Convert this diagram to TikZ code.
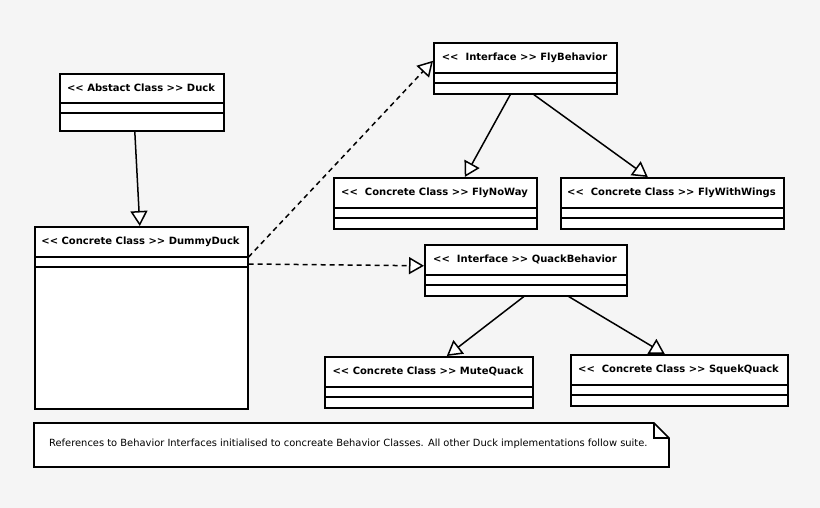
\documentclass[tikz,border=0pt]{standalone}
\usepackage{fontspec}
\setmainfont[Ligatures=NoCommon]{DejaVu Sans}
\usetikzlibrary{arrows.meta}
\definecolor{bg}{HTML}{F5F5F5}
\begin{document}
\begin{tikzpicture}[x=1pt,y=-1pt,
  box/.style={draw,line width=1.6pt,fill=white,anchor=north west,inner sep=0},
  ttl/.style={font=\fontsize{10}{12}\selectfont\bfseries},
  inh/.style={line width=1.5pt,-{Triangle[open,length=15pt,width=17pt,fill=white]}},
  dep/.style={inh,dash pattern=on 5pt off 4pt}]
\fill[bg] (0,0) rectangle (820,508);
\useasboundingbox (0,0) rectangle (820,508);
\newcommand\umlcls[7]{%
  \node[box,minimum width=#4pt,minimum height=#5pt] (#1) at (#2,#3) {};
  \node[ttl] (#1t) at ({#2+#4/2},{#3+#6/2}) {#7};
  \draw[line width=1.6pt] (#2,{#3+#6}) -- ({#2+#4},{#3+#6})
     (#2,{#3+#6+10}) -- ({#2+#4},{#3+#6+10});}
\newcommand\lt{<{}<}
\newcommand\gt{>{}>}
\umlcls{duck}{59}{73}{164}{57}{30}{\lt{} Abstact Class \gt{} Duck}
\umlcls{dummy}{34}{226}{213}{182}{31}{\lt{} Concrete Class \gt{} DummyDuck}
\umlcls{fly}{433}{42}{183}{51}{31}{\lt\ \ Interface \gt{} FlyBehavior}
\umlcls{noway}{333}{177}{203}{51}{31}{\lt\ \ Concrete Class \gt{} FlyNoWay}
\umlcls{wings}{560}{177}{223}{51}{31}{\lt\ \ Concrete Class \gt{} FlyWithWings}
\umlcls{quack}{424}{244}{202}{51}{31}{\lt\ \ Interface \gt{} QuackBehavior}
\umlcls{mute}{324}{356}{208}{51}{31}{\lt{} Concrete Class \gt{} MuteQuack}
\umlcls{squek}{570}{354}{217}{51}{31}{\lt\ \ Concrete Class \gt{} SquekQuack}
% note
\draw[line width=1.6pt,fill=white] (34,423) -- (654,423) -- (669,438) -- (669,467) -- (34,467) -- cycle;
\draw[line width=1.3pt] (654,423) -- (654,438) -- (669,438);
\node[font=\fontsize{9.9}{12}\selectfont,anchor=west,inner sep=0] (note) at (49,444) {References to Behavior Interfaces initialised to concreate Behavior Classes. All other Duck implementations follow suite.};
% connectors
\draw[inh] ([xshift=-7pt]duck.south) -- ([xshift=-1.5pt]dummy.north);
\draw[inh] ([xshift=-15pt]fly.south) -- ([xshift=29.5pt]noway.north);
\draw[inh] ([xshift=8.5pt]fly.south) -- ([xshift=-24.5pt]wings.north);
\draw[inh] ([xshift=-2pt]quack.south) -- ([xshift=18pt]mute.north);
\draw[inh] ([xshift=43pt]quack.south) -- ([xshift=-14.5pt]squek.north);
\draw[dep] ([yshift=-31pt]dummy.north east) -- ([yshift=7.5pt]fly.west);
\draw[dep] ([yshift=-38pt]dummy.north east) -- ([yshift=4.5pt]quack.west);
\end{tikzpicture}
\end{document}
